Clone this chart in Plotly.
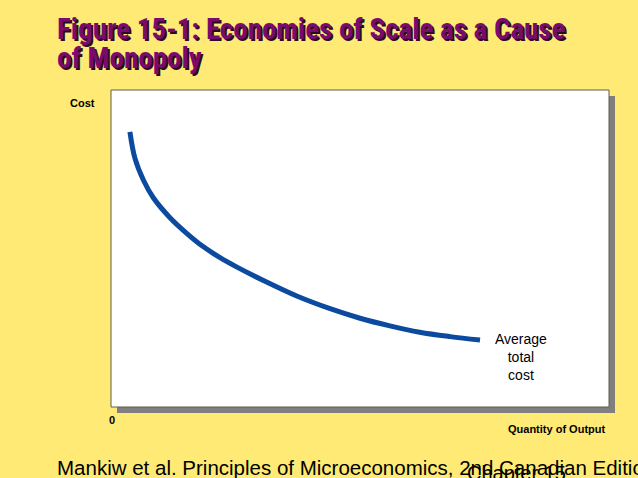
import plotly.graph_objects as go

# Average total cost curve (quantity, cost on 0-100 scales)
quantity = [3.8, 4.8, 6.5, 8.5, 11.8, 15.2, 18.5, 21.9, 25.2, 30.6, 37.3, 44.0, 50.0, 56.0, 62.0, 68.1, 74.1]
avg_total_cost = [86.8, 78.5, 71.6, 66.0, 59.8, 54.8, 50.6, 47.1, 44.2, 39.9, 35.0, 31.0, 28.0, 25.6, 23.6, 22.2, 21.1]

W, H = 638, 478
x0, x1 = 111 / W, 609 / W
y0, y1 = (H - 407) / H, (H - 90) / H

fig = go.Figure()
fig.add_trace(go.Scatter(
    x=quantity, y=avg_total_cost, mode="lines",
    line=dict(color="#0b4a9e", width=5, shape="spline"),
    hoverinfo="skip", showlegend=False,
))

shapes = [
    dict(type="rect", xref="paper", yref="paper",
         x0=x0 + 6 / W, x1=x1 + 6 / W, y0=y0 - 6 / H, y1=y1 - 6 / H,
         fillcolor="#7f7f7f", line=dict(width=0), layer="below"),
    dict(type="rect", xref="paper", yref="paper",
         x0=x0, x1=x1, y0=y0, y1=y1,
         fillcolor="white", line=dict(color="#5e5e4e", width=1), layer="below"),
]

title_font = dict(family="Liberation Sans Narrow, Roboto Condensed, Liberation Sans, Arial, sans-serif",
                  size=29, color="#7a0a6c", weight="bold", shadow="2px 2px 0px #2a0a22")
annotations = [
    dict(text="Figure 15-1: Economies of Scale as a Cause",
         xref="paper", yref="paper", x=55 / W, y=1 - 29 / H, xanchor="left", yanchor="middle",
         showarrow=False, align="left", font=title_font),
    dict(text="of Monopoly",
         xref="paper", yref="paper", x=55 / W, y=1 - 58 / H, xanchor="left", yanchor="middle",
         showarrow=False, align="left", font=title_font),
    dict(text="<b>Cost</b>", xref="paper", yref="paper", x=97 / W, y=1 - 103 / H,
         xanchor="right", yanchor="middle", showarrow=False,
         font=dict(family="Liberation Sans, Arial", size=11, color="black")),
    dict(text="<b>0</b>", xref="paper", yref="paper", x=112 / W, y=1 - 420 / H,
         xanchor="center", yanchor="middle", showarrow=False,
         font=dict(family="Liberation Sans, Arial", size=11, color="black")),
    dict(text="<b>Quantity of Output</b>", xref="paper", yref="paper", x=607 / W, y=1 - 429 / H,
         xanchor="right", yanchor="middle", showarrow=False,
         font=dict(family="Liberation Sans, Arial", size=11, color="black")),
    dict(text="Average<br>total<br>cost", xref="paper", yref="paper", x=521 / W, y=1 - 357 / H,
         xanchor="center", yanchor="middle", showarrow=False, align="center",
         font=dict(family="Liberation Sans, Arial", size=14, color="black")),
    dict(text="Mankiw et al. Principles of Microeconomics, 2nd Canadian Edition",
         xref="paper", yref="paper", x=55 / W, y=1 - 467 / H, xanchor="left", yanchor="middle",
         showarrow=False, font=dict(family="Liberation Sans, Arial", size=20.5, color="black")),
    dict(text="Chapter 15", xref="paper", yref="paper", x=465 / W, y=1 - 473 / H,
         xanchor="left", yanchor="middle", showarrow=False,
         font=dict(family="Liberation Sans, Arial", size=20, color="black")),
]

fig.update_layout(
    width=W, height=H, margin=dict(l=0, r=0, t=0, b=0),
    paper_bgcolor="#ffea75", plot_bgcolor="rgba(0,0,0,0)",
    xaxis=dict(domain=[x0, x1], range=[0, 100], showgrid=False, zeroline=False,
               showticklabels=False, ticks="", showline=False),
    yaxis=dict(domain=[y0, y1], range=[0, 100], showgrid=False, zeroline=False,
               showticklabels=False, ticks="", showline=False),
    shapes=shapes, annotations=annotations, showlegend=False,
)
fig.write_html("out.html")
